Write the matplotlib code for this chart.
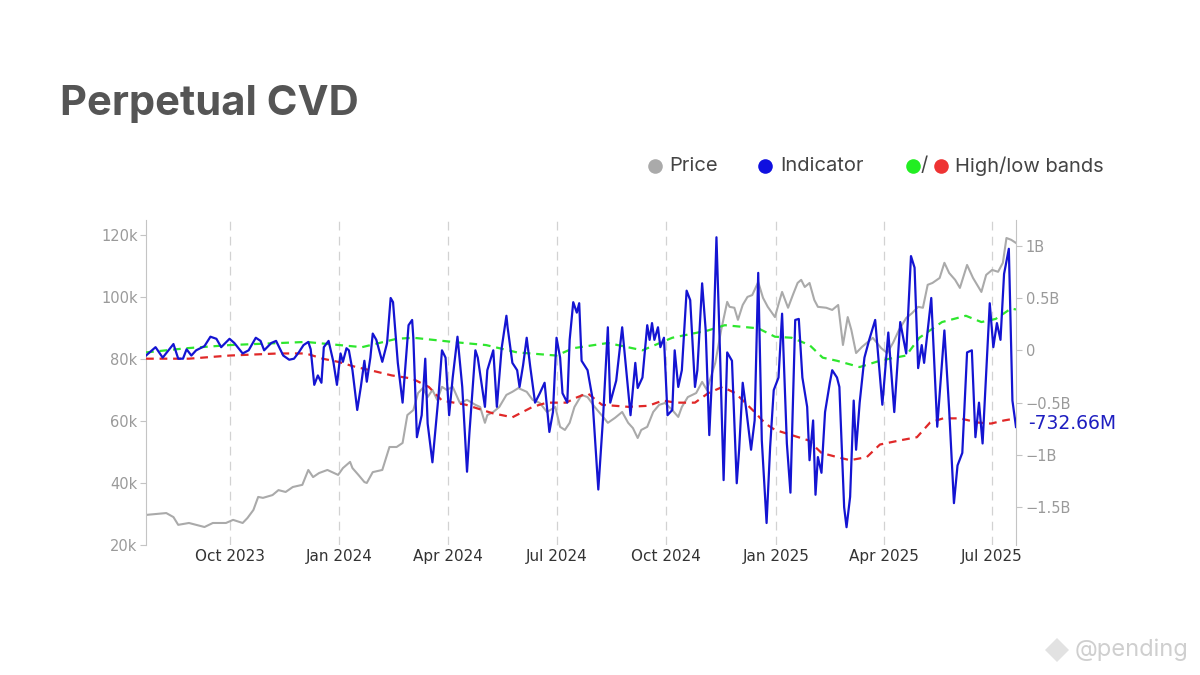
import matplotlib
matplotlib.use("Agg")
import matplotlib.pyplot as plt
from matplotlib.lines import Line2D
import pandas as pd

# ---------------- data ----------------
START = "2023-07-23"          # day 0
END_DAY = 729

price_day = [0,17,23,27,36,49,56,67,73,81,85,90,94,98,106,111,117,123,131,136,
             140,145,152,161,165,171,173,178,183,185,190,198,204,210,215,219,224,228,232,236,
             240,244,248,252,257,263,269,276,280,284,286,291,296,302,307,312,319,324,330,336,
             343,347,351,355,359,365,370,376,383,387,393,399,404,408,412,415,420,425,430,435,
             441,446,449,454,461,466,470,477,482,487,489,493,496,500,504,508,513,517,521,527,
             531,533,538,542,546,549,552,556,560,563,570,575,580,584,588,591,595,600,604,609,
             616,621,626,631,637,642,647,651,655,659,665,669,673,678,682,688,693,700,704,709,
             714,718,721,725,729]
price_k = [29.7,30.3,29.0,26.5,27.1,25.8,27.1,27.1,28.1,27.1,28.7,31.3,35.5,35.2,36.1,37.7,37.1,38.7,39.4,44.2,
           41.9,43.2,44.2,42.6,44.8,46.8,44.8,42.6,40.3,40.0,43.5,44.2,51.6,51.6,52.9,61.9,63.5,69.0,70.6,67.7,
           70.0,66.8,71.0,70.0,71.0,65.8,66.8,65.2,64.5,59.4,61.9,62.9,64.5,68.4,69.4,70.6,69.4,66.8,65.8,62.9,
           64.5,58.1,57.1,59.4,64.5,68.4,67.7,64.5,61.3,59.4,61.0,62.9,59.4,57.7,54.5,57.1,58.1,62.9,65.2,65.8,
           63.5,61.3,64.5,67.7,69.0,72.6,70.0,78.7,89.4,98.4,96.8,96.5,92.6,97.4,100.0,100.6,104.8,99.7,96.8,93.5,
           99.0,101.6,96.5,100.6,104.5,105.5,103.2,104.5,99.0,96.8,96.5,95.8,97.4,84.5,93.5,89.4,81.9,83.9,85.2,86.8,
           83.5,81.9,85.2,89.4,93.2,94.8,96.8,96.5,103.9,104.5,106.1,111.0,107.7,105.5,102.9,110.3,106.1,101.6,107.1,108.7,
           108.1,111.0,119.0,118.4,117.4]

ind_day = [0,8,14,23,27,31,34,38,42,49, 54,59,63,70,74,81,86,92,96,99,
           105,109,115,120,124,128,132,136,138,141, 144,147,149,153,157,160,163,165,168,170,
           173,177,180,183,185,188,190,193,198,202, 205,207,211,215,220,223,224,227,231,234,
           236,240,245,248,251,254,257,261,265,269, 271,276,278,284,286,291,294,298,302,303,
           307,311,313,316,319,322,326,330,334,338, 341,344,347,349,353,355,358,361,363,365,
           370,374,379,383,387,389,394,399,403,406, 410,412,416,420,422,424,426,429,431,434,
           437,441,443,446,449,453,456,460,462,466, 469,472,475,478,481,484,487,491,495,497,
           500,503,507,510,513,516,520,523,526,530, 533,537,540,544,547,550,554,556,559,561,
           563,566,569,573,575,579,581,585,587,590, 593,595,598,602,606,611,617,622,627,632,
           637,641,644,647,650,652,658,663,669,673, 677,680,684,688,692,695,698,701,707,710,
           713,716,719,723,726,729]
ind_b = [-0.05,0.03,-0.07,0.06,-0.08,-0.08,0.01,-0.05,0.0,0.04,
         0.13,0.11,0.03,0.11,0.07,-0.03,0.0,0.12,0.09,0.0,
         0.07,0.09,-0.05,-0.09,-0.08,-0.02,0.05,0.08,0.01,-0.33,
         -0.24,-0.31,0.03,0.09,-0.11,-0.33,-0.03,-0.11,0.02,0.0,
         -0.19,-0.57,-0.35,-0.10,-0.30,-0.07,0.16,0.10,-0.11,0.07,
         0.50,0.46,-0.12,-0.50,0.24,0.29,0.12,-0.83,-0.62,-0.08,
         -0.70,-1.07,-0.45,0.0,-0.07,-0.62,-0.26,0.13,-0.35,-1.16,
         -0.79,0.0,-0.07,-0.54,-0.19,0.0,-0.54,0.02,0.33,0.22,
         -0.12,-0.19,-0.35,-0.14,0.12,-0.16,-0.50,-0.41,-0.31,-0.78,
         -0.59,0.12,-0.07,-0.41,-0.50,0.10,0.46,0.36,0.45,-0.10,
         -0.19,-0.45,-1.33,-0.64,0.22,-0.50,-0.29,0.22,-0.26,-0.62,
         -0.12,-0.36,-0.26,0.24,0.10,0.26,0.10,0.22,0.03,0.12,
         -0.62,-0.57,0.0,-0.35,-0.19,0.57,0.48,-0.35,-0.19,0.64,
         0.19,-0.81,-0.07,1.08,-0.03,-1.24,-0.02,-0.10,-1.27,-0.95,
         -0.31,-0.57,-0.95,-0.67,0.74,-0.86,-1.65,-0.92,-0.38,-0.26,
         0.35,-0.89,-1.36,0.29,0.30,-0.26,-0.54,-1.05,-0.67,-1.38,
         -1.02,-1.17,-0.59,-0.31,-0.19,-0.26,-0.35,-1.50,-1.69,-1.40,
         -0.48,-0.95,-0.50,-0.07,0.10,0.29,-0.52,0.17,-0.59,0.27,
         -0.03,0.90,0.79,-0.17,0.05,-0.12,0.50,-0.73,0.19,-0.57,
         -1.46,-1.10,-0.98,-0.02,0.0,-0.83,-0.50,-0.89,0.45,0.03,
         0.26,0.10,0.73,0.97,-0.48,-0.73266]

high_day = [0,34,70,134,181,210,224,257,285,311,344,358,387,416,441,471,485,513,527,541,
            556,567,579,598,612,623,637,648,667,687,700,712,725,729]
high_b = [-0.02,0.02,0.05,0.08,0.03,0.11,0.12,0.08,0.05,-0.02,-0.05,0.02,0.07,0.0,0.12,0.19,0.24,0.21,0.13,0.12,
          0.05,-0.07,-0.10,-0.16,-0.11,-0.08,-0.05,0.12,0.27,0.33,0.27,0.30,0.40,0.39]

low_day = [0,36,70,111,134,148,161,176,188,206,223,237,248,268,290,307,324,336,352,361,
           370,382,404,421,433,444,460,471,483,494,510,519,527,541,555,566,579,590,604,615,
           632,646,657,668,682,697,708,719,729]
low_b = [-0.08,-0.08,-0.05,-0.03,-0.03,-0.08,-0.11,-0.16,-0.19,-0.24,-0.27,-0.35,-0.48,-0.52,-0.60,-0.64,-0.54,-0.50,-0.50,-0.45,
         -0.41,-0.52,-0.54,-0.53,-0.48,-0.50,-0.50,-0.41,-0.35,-0.41,-0.59,-0.70,-0.76,-0.81,-0.86,-0.98,-1.02,-1.05,-1.02,-0.90,
         -0.86,-0.83,-0.69,-0.65,-0.65,-0.69,-0.70,-0.67,-0.65]

xtick_dates = ["2023-10-01", "2024-01-01", "2024-04-01", "2024-07-01",
               "2024-10-01", "2025-01-01", "2025-04-01", "2025-07-01"]
xtick_labels = ["Oct 2023", "Jan 2024", "Apr 2024", "Jul 2024",
                "Oct 2024", "Jan 2025", "Apr 2025", "Jul 2025"]
left_ticks = [20, 40, 60, 80, 100, 120]
left_labels = ["20k", "40k", "60k", "80k", "100k", "120k"]
right_ticks = [-1.5, -1.0, -0.5, 0, 0.5, 1.0]
right_labels = ["\u22121.5B", "\u22121B", "\u22120.5B", "0", "0.5B", "1B"]
last_label = "-732.66M"

# ---------------- helpers ----------------
start = pd.Timestamp(START)
def to_dates(days):
    return start + pd.to_timedelta(days, unit="D")

plt.rcParams["font.family"] = ["DejaVu Sans"]

fig = plt.figure(figsize=(12, 6.75), dpi=100)
fig.patch.set_facecolor("white")

ax = fig.add_axes([146/1200, 1-545/675, (1016-146)/1200, (545-220)/675])
ax2 = ax.twinx()

GRAY = "#aaaaaa"
BLUE = "#1414d2"
GREEN = "#2ee62e"
RED = "#e02828"
AXC = "#c4c4c4"

# price on the left axis
ax.plot(to_dates(price_day), price_k, color=GRAY, lw=1.5, zorder=2)
ax.set_ylim(20, 124.8)
ax.set_yticks(left_ticks)
ax.set_yticklabels(left_labels)

# indicator and bands on the right axis
ax2.plot(to_dates(high_day), high_b, color=GREEN, lw=1.6, ls=(0, (3.5, 2.6)), zorder=3)
ax2.plot(to_dates(low_day), low_b, color=RED, lw=1.6, ls=(0, (3.5, 2.6)), zorder=3)
ax2.plot(to_dates(ind_day), ind_b, color=BLUE, lw=1.6, zorder=4)
ax2.set_ylim(-1.86, 1.245)
ax2.set_yticks(right_ticks)
ax2.set_yticklabels(right_labels)

xmin, xmax = to_dates([0, END_DAY])
ax.set_xlim(xmin, xmax)
ax.set_xticks(pd.to_datetime(xtick_dates))
ax.set_xticklabels(xtick_labels)

# vertical dashed grid
ax.grid(axis="x", color="#d2d2d2", lw=0.9, ls=(0, (7, 5)))
ax.grid(axis="y", visible=False)
ax.set_axisbelow(True)

for s in ["top", "bottom", "right"]:
    ax.spines[s].set_visible(False)
ax.spines["left"].set_color(AXC)
for s in ["top", "bottom", "left"]:
    ax2.spines[s].set_visible(False)
ax2.spines["right"].set_color(AXC)

ax.tick_params(axis="y", colors=AXC, labelcolor="#9a9a9a", labelsize=10.5, length=4, pad=2)
ax2.tick_params(axis="y", colors=AXC, labelcolor="#9a9a9a", labelsize=10.5, length=4, pad=3)
ax.tick_params(axis="x", length=0, labelsize=11, labelcolor="#333333", pad=3)

# last value annotation
ax2.annotate(last_label, xy=(to_dates([ind_day[-1]])[0], ind_b[-1]),
             xytext=(12, 4), textcoords="offset pixels",
             color="#1e1ec0", fontsize=13.5, va="center", ha="left",
             annotation_clip=False)

# title
fig.text(60/1200, 1-115/675, "Perpetual CVD", family=["Inter", "DejaVu Sans"],
         fontsize=30, fontweight="bold", color="#555555", va="baseline", ha="left")

# legend (manual)
ly = 1-166/675
def dot(xpx, color):
    fig.add_artist(Line2D([xpx/1200], [ly], marker="o", markersize=10.5, color=color,
                          markeredgewidth=0, linestyle="none", transform=fig.transFigure))
def ltxt(xpx, s):
    fig.text(xpx/1200, ly, s, family=["Inter", "DejaVu Sans"], fontsize=14.5,
             color="#444444", va="center", ha="left")
dot(655, GRAY); ltxt(669, "Price")
dot(765, "#1010e0"); ltxt(780, "Indicator")
dot(913, "#22ee22"); ltxt(921, "/"); dot(941, "#ee3333"); ltxt(955, "High/low bands")

# watermark
fig.add_artist(Line2D([1057/1200], [1-650/675], marker="D", markersize=12, color="#e2e2e2",
                      markeredgewidth=0, linestyle="none", transform=fig.transFigure))
fig.text(1075/1200, 1-650/675, "@pending", family=["Inter", "DejaVu Sans"], fontsize=17,
         color="#cfcfcf", va="center", ha="left")

fig.savefig("out.png", dpi=100, facecolor="white")
